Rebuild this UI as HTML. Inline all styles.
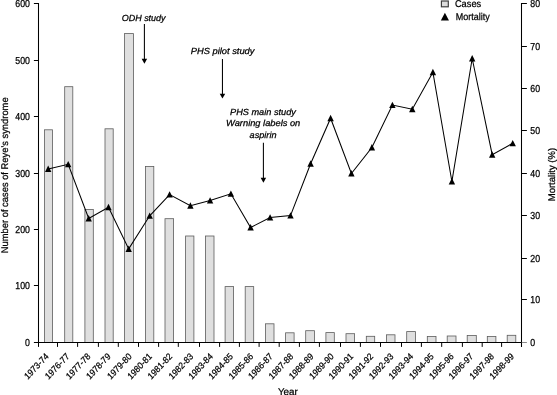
<!DOCTYPE html><html><head><meta charset="utf-8"><style>html,body{margin:0;padding:0;background:#fff}svg{display:block}</style></head><body><svg width="557" height="395" viewBox="0 0 557 395" font-family="Liberation Sans, sans-serif" font-size="9" fill="#000" text-rendering="geometricPrecision">
<rect width="557" height="395" fill="#fff"/>
<rect x="44.50" y="129.80" width="8.00" height="212.70" fill="#dfdfdf" stroke="#5c5c5c" stroke-width="0.8"/>
<rect x="64.70" y="86.70" width="8.10" height="255.80" fill="#dfdfdf" stroke="#5c5c5c" stroke-width="0.8"/>
<rect x="84.90" y="209.40" width="8.40" height="133.10" fill="#dfdfdf" stroke="#5c5c5c" stroke-width="0.8"/>
<rect x="105.00" y="128.80" width="8.20" height="213.70" fill="#dfdfdf" stroke="#5c5c5c" stroke-width="0.8"/>
<rect x="124.50" y="33.60" width="9.00" height="308.90" fill="#dfdfdf" stroke="#5c5c5c" stroke-width="0.8"/>
<rect x="145.40" y="166.40" width="8.40" height="176.10" fill="#dfdfdf" stroke="#5c5c5c" stroke-width="0.8"/>
<rect x="165.00" y="218.70" width="8.60" height="123.80" fill="#dfdfdf" stroke="#5c5c5c" stroke-width="0.8"/>
<rect x="185.60" y="236.00" width="8.30" height="106.50" fill="#dfdfdf" stroke="#5c5c5c" stroke-width="0.8"/>
<rect x="205.40" y="236.00" width="8.60" height="106.50" fill="#dfdfdf" stroke="#5c5c5c" stroke-width="0.8"/>
<rect x="225.10" y="286.60" width="8.50" height="55.90" fill="#dfdfdf" stroke="#5c5c5c" stroke-width="0.8"/>
<rect x="245.20" y="286.60" width="8.50" height="55.90" fill="#dfdfdf" stroke="#5c5c5c" stroke-width="0.8"/>
<rect x="265.50" y="323.80" width="8.50" height="18.70" fill="#dfdfdf" stroke="#5c5c5c" stroke-width="0.8"/>
<rect x="285.60" y="332.80" width="8.50" height="9.70" fill="#dfdfdf" stroke="#5c5c5c" stroke-width="0.8"/>
<rect x="305.70" y="330.70" width="8.70" height="11.80" fill="#dfdfdf" stroke="#5c5c5c" stroke-width="0.8"/>
<rect x="325.90" y="332.60" width="8.40" height="9.90" fill="#dfdfdf" stroke="#5c5c5c" stroke-width="0.8"/>
<rect x="346.00" y="333.70" width="8.60" height="8.80" fill="#dfdfdf" stroke="#5c5c5c" stroke-width="0.8"/>
<rect x="366.30" y="336.30" width="8.40" height="6.20" fill="#dfdfdf" stroke="#5c5c5c" stroke-width="0.8"/>
<rect x="386.40" y="334.80" width="8.60" height="7.70" fill="#dfdfdf" stroke="#5c5c5c" stroke-width="0.8"/>
<rect x="406.70" y="331.60" width="8.80" height="10.90" fill="#dfdfdf" stroke="#5c5c5c" stroke-width="0.8"/>
<rect x="427.30" y="336.50" width="8.70" height="6.00" fill="#dfdfdf" stroke="#5c5c5c" stroke-width="0.8"/>
<rect x="447.20" y="336.00" width="8.80" height="6.50" fill="#dfdfdf" stroke="#5c5c5c" stroke-width="0.8"/>
<rect x="467.20" y="335.50" width="9.10" height="7.00" fill="#dfdfdf" stroke="#5c5c5c" stroke-width="0.8"/>
<rect x="487.30" y="336.50" width="8.60" height="6.00" fill="#dfdfdf" stroke="#5c5c5c" stroke-width="0.8"/>
<rect x="507.20" y="335.30" width="8.60" height="7.20" fill="#dfdfdf" stroke="#5c5c5c" stroke-width="0.8"/>
<path d="M38.5 3.0V342.5H522.0M521.5 346.9V3.0" fill="none" stroke="#000" stroke-width="1.05"/>
<path d="M33.9 342.50H38.5" stroke="#000" stroke-width="1"/>
<text transform="translate(29.90 345.90) scale(0.87 1)" font-size="10.1" text-anchor="end" stroke="#000" stroke-width="0.25">0</text>
<path d="M33.9 285.50H38.5" stroke="#000" stroke-width="1"/>
<text transform="translate(29.90 288.90) scale(0.87 1)" font-size="10.1" text-anchor="end" stroke="#000" stroke-width="0.25">100</text>
<path d="M33.9 229.50H38.5" stroke="#000" stroke-width="1"/>
<text transform="translate(29.90 232.90) scale(0.87 1)" font-size="10.1" text-anchor="end" stroke="#000" stroke-width="0.25">200</text>
<path d="M33.9 173.50H38.5" stroke="#000" stroke-width="1"/>
<text transform="translate(29.90 176.90) scale(0.87 1)" font-size="10.1" text-anchor="end" stroke="#000" stroke-width="0.25">300</text>
<path d="M33.9 116.50H38.5" stroke="#000" stroke-width="1"/>
<text transform="translate(29.90 119.90) scale(0.87 1)" font-size="10.1" text-anchor="end" stroke="#000" stroke-width="0.25">400</text>
<path d="M33.9 60.50H38.5" stroke="#000" stroke-width="1"/>
<text transform="translate(29.90 63.90) scale(0.87 1)" font-size="10.1" text-anchor="end" stroke="#000" stroke-width="0.25">500</text>
<path d="M33.9 3.50H38.5" stroke="#000" stroke-width="1"/>
<text transform="translate(29.90 6.90) scale(0.87 1)" font-size="10.1" text-anchor="end" stroke="#000" stroke-width="0.25">600</text>
<path d="M521.5 342.50h5.4" stroke="#888" stroke-width="1"/>
<text transform="translate(530.30 345.90) scale(0.87 1)" font-size="10.1" stroke="#000" stroke-width="0.25">0</text>
<path d="M521.5 299.50h5.4" stroke="#000" stroke-width="1"/>
<text transform="translate(530.30 302.90) scale(0.87 1)" font-size="10.1" stroke="#000" stroke-width="0.25">10</text>
<path d="M521.5 258.50h5.4" stroke="#000" stroke-width="1"/>
<text transform="translate(530.30 261.90) scale(0.87 1)" font-size="10.1" stroke="#000" stroke-width="0.25">20</text>
<path d="M521.5 215.50h5.4" stroke="#000" stroke-width="1"/>
<text transform="translate(530.30 218.90) scale(0.87 1)" font-size="10.1" stroke="#000" stroke-width="0.25">30</text>
<path d="M521.5 173.50h5.4" stroke="#000" stroke-width="1"/>
<text transform="translate(530.30 176.90) scale(0.87 1)" font-size="10.1" stroke="#000" stroke-width="0.25">40</text>
<path d="M521.5 130.50h5.4" stroke="#000" stroke-width="1"/>
<text transform="translate(530.30 133.90) scale(0.87 1)" font-size="10.1" stroke="#000" stroke-width="0.25">50</text>
<path d="M521.5 88.50h5.4" stroke="#000" stroke-width="1"/>
<text transform="translate(530.30 91.90) scale(0.87 1)" font-size="10.1" stroke="#000" stroke-width="0.25">60</text>
<path d="M521.5 46.50h5.4" stroke="#000" stroke-width="1"/>
<text transform="translate(530.30 49.90) scale(0.87 1)" font-size="10.1" stroke="#000" stroke-width="0.25">70</text>
<path d="M521.5 3.50h5.4" stroke="#000" stroke-width="1"/>
<text transform="translate(530.30 6.90) scale(0.87 1)" font-size="10.1" stroke="#000" stroke-width="0.25">80</text>
<path d="M38.50 342.5v4.4" stroke="#000" stroke-width="1"/>
<path d="M57.50 342.5v4.4" stroke="#000" stroke-width="1"/>
<path d="M77.60 342.5v4.4" stroke="#000" stroke-width="1"/>
<path d="M98.40 342.5v4.4" stroke="#000" stroke-width="1"/>
<path d="M118.30 342.5v4.4" stroke="#000" stroke-width="1"/>
<path d="M138.50 342.5v4.4" stroke="#000" stroke-width="1"/>
<path d="M158.60 342.5v4.4" stroke="#000" stroke-width="1"/>
<path d="M178.30 342.5v4.4" stroke="#000" stroke-width="1"/>
<path d="M199.50 342.5v4.4" stroke="#000" stroke-width="1"/>
<path d="M219.60 342.5v4.4" stroke="#000" stroke-width="1"/>
<path d="M239.40 342.5v4.4" stroke="#000" stroke-width="1"/>
<path d="M259.10 342.5v4.4" stroke="#000" stroke-width="1"/>
<path d="M279.20 342.5v4.4" stroke="#000" stroke-width="1"/>
<path d="M299.40 342.5v4.4" stroke="#000" stroke-width="1"/>
<path d="M319.40 342.5v4.4" stroke="#000" stroke-width="1"/>
<path d="M340.50 342.5v4.4" stroke="#000" stroke-width="1"/>
<path d="M360.40 342.5v4.4" stroke="#000" stroke-width="1"/>
<path d="M380.50 342.5v4.4" stroke="#000" stroke-width="1"/>
<path d="M401.50 342.5v4.4" stroke="#000" stroke-width="1"/>
<path d="M421.40 342.5v4.4" stroke="#000" stroke-width="1"/>
<path d="M441.70 342.5v4.4" stroke="#000" stroke-width="1"/>
<path d="M462.40 342.5v4.4" stroke="#000" stroke-width="1"/>
<path d="M482.20 342.5v4.4" stroke="#000" stroke-width="1"/>
<path d="M501.60 342.5v4.4" stroke="#000" stroke-width="1"/>
<path d="M521.50 342.5v4.4" stroke="#000" stroke-width="1"/>
<text transform="translate(49.20 357.00) scale(0.93 1) rotate(-45)" font-size="9.4" text-anchor="end" textLength="32.7" lengthAdjust="spacingAndGlyphs" stroke="#000" stroke-width="0.25">1973-74</text>
<text transform="translate(69.91 357.00) scale(0.93 1) rotate(-45)" font-size="9.4" text-anchor="end" textLength="32.7" lengthAdjust="spacingAndGlyphs" stroke="#000" stroke-width="0.25">1976-77</text>
<text transform="translate(90.92 357.00) scale(0.93 1) rotate(-45)" font-size="9.4" text-anchor="end" textLength="32.7" lengthAdjust="spacingAndGlyphs" stroke="#000" stroke-width="0.25">1977-78</text>
<text transform="translate(111.13 357.00) scale(0.93 1) rotate(-45)" font-size="9.4" text-anchor="end" textLength="32.7" lengthAdjust="spacingAndGlyphs" stroke="#000" stroke-width="0.25">1978-79</text>
<text transform="translate(132.14 357.00) scale(0.93 1) rotate(-45)" font-size="9.4" text-anchor="end" textLength="32.7" lengthAdjust="spacingAndGlyphs" stroke="#000" stroke-width="0.25">1979-80</text>
<text transform="translate(152.55 357.00) scale(0.93 1) rotate(-45)" font-size="9.4" text-anchor="end" textLength="32.7" lengthAdjust="spacingAndGlyphs" stroke="#000" stroke-width="0.25">1980-81</text>
<text transform="translate(172.76 357.00) scale(0.93 1) rotate(-45)" font-size="9.4" text-anchor="end" textLength="32.7" lengthAdjust="spacingAndGlyphs" stroke="#000" stroke-width="0.25">1981-82</text>
<text transform="translate(193.67 357.00) scale(0.93 1) rotate(-45)" font-size="9.4" text-anchor="end" textLength="32.7" lengthAdjust="spacingAndGlyphs" stroke="#000" stroke-width="0.25">1982-83</text>
<text transform="translate(213.38 357.00) scale(0.93 1) rotate(-45)" font-size="9.4" text-anchor="end" textLength="32.7" lengthAdjust="spacingAndGlyphs" stroke="#000" stroke-width="0.25">1983-84</text>
<text transform="translate(233.59 357.00) scale(0.93 1) rotate(-45)" font-size="9.4" text-anchor="end" textLength="32.7" lengthAdjust="spacingAndGlyphs" stroke="#000" stroke-width="0.25">1984-85</text>
<text transform="translate(253.80 357.00) scale(0.93 1) rotate(-45)" font-size="9.4" text-anchor="end" textLength="32.7" lengthAdjust="spacingAndGlyphs" stroke="#000" stroke-width="0.25">1985-86</text>
<text transform="translate(273.31 357.00) scale(0.93 1) rotate(-45)" font-size="9.4" text-anchor="end" textLength="32.7" lengthAdjust="spacingAndGlyphs" stroke="#000" stroke-width="0.25">1986-87</text>
<text transform="translate(293.72 357.00) scale(0.93 1) rotate(-45)" font-size="9.4" text-anchor="end" textLength="32.7" lengthAdjust="spacingAndGlyphs" stroke="#000" stroke-width="0.25">1987-88</text>
<text transform="translate(313.93 357.00) scale(0.93 1) rotate(-45)" font-size="9.4" text-anchor="end" textLength="32.7" lengthAdjust="spacingAndGlyphs" stroke="#000" stroke-width="0.25">1988-89</text>
<text transform="translate(334.14 357.00) scale(0.93 1) rotate(-45)" font-size="9.4" text-anchor="end" textLength="32.7" lengthAdjust="spacingAndGlyphs" stroke="#000" stroke-width="0.25">1989-90</text>
<text transform="translate(353.65 357.00) scale(0.93 1) rotate(-45)" font-size="9.4" text-anchor="end" textLength="32.7" lengthAdjust="spacingAndGlyphs" stroke="#000" stroke-width="0.25">1990-91</text>
<text transform="translate(373.86 357.00) scale(0.93 1) rotate(-45)" font-size="9.4" text-anchor="end" textLength="32.7" lengthAdjust="spacingAndGlyphs" stroke="#000" stroke-width="0.25">1991-92</text>
<text transform="translate(394.07 357.00) scale(0.93 1) rotate(-45)" font-size="9.4" text-anchor="end" textLength="32.7" lengthAdjust="spacingAndGlyphs" stroke="#000" stroke-width="0.25">1992-93</text>
<text transform="translate(413.78 357.00) scale(0.93 1) rotate(-45)" font-size="9.4" text-anchor="end" textLength="32.7" lengthAdjust="spacingAndGlyphs" stroke="#000" stroke-width="0.25">1993-94</text>
<text transform="translate(434.19 357.00) scale(0.93 1) rotate(-45)" font-size="9.4" text-anchor="end" textLength="32.7" lengthAdjust="spacingAndGlyphs" stroke="#000" stroke-width="0.25">1994-95</text>
<text transform="translate(454.20 357.00) scale(0.93 1) rotate(-45)" font-size="9.4" text-anchor="end" textLength="32.7" lengthAdjust="spacingAndGlyphs" stroke="#000" stroke-width="0.25">1995-96</text>
<text transform="translate(473.81 357.00) scale(0.93 1) rotate(-45)" font-size="9.4" text-anchor="end" textLength="32.7" lengthAdjust="spacingAndGlyphs" stroke="#000" stroke-width="0.25">1996-97</text>
<text transform="translate(494.62 357.00) scale(0.93 1) rotate(-45)" font-size="9.4" text-anchor="end" textLength="32.7" lengthAdjust="spacingAndGlyphs" stroke="#000" stroke-width="0.25">1997-98</text>
<text transform="translate(514.53 357.00) scale(0.93 1) rotate(-45)" font-size="9.4" text-anchor="end" textLength="32.7" lengthAdjust="spacingAndGlyphs" stroke="#000" stroke-width="0.25">1998-99</text>
<polyline points="48.2,168.9 68.2,164.3 88.7,218.5 108.5,207.2 128.7,248.9 149.7,215.8 169.6,194.6 190.4,205.7 210.1,200.6 230.9,193.8 250.6,227.5 270.1,217.6 290.5,215.6 310.6,163.7 330.6,118.2 351.4,173.5 371.9,147.5 392.4,105.1 412.3,109.2 432.9,72.2 451.9,181.5 472.2,58.5 492.2,154.7 512.7,143.3" fill="none" stroke="#000" stroke-width="1.05"/>
<path d="M48.2 165.5l3.2 6.4H45.0z" fill="#000"/>
<path d="M68.2 160.9l3.2 6.4H65.0z" fill="#000"/>
<path d="M88.7 215.1l3.2 6.4H85.5z" fill="#000"/>
<path d="M108.5 203.79999999999998l3.2 6.4H105.3z" fill="#000"/>
<path d="M128.7 245.5l3.2 6.4H125.49999999999999z" fill="#000"/>
<path d="M149.7 212.4l3.2 6.4H146.5z" fill="#000"/>
<path d="M169.6 191.2l3.2 6.4H166.4z" fill="#000"/>
<path d="M190.4 202.29999999999998l3.2 6.4H187.20000000000002z" fill="#000"/>
<path d="M210.1 197.2l3.2 6.4H206.9z" fill="#000"/>
<path d="M230.9 190.4l3.2 6.4H227.70000000000002z" fill="#000"/>
<path d="M250.6 224.1l3.2 6.4H247.4z" fill="#000"/>
<path d="M270.1 214.2l3.2 6.4H266.90000000000003z" fill="#000"/>
<path d="M290.5 212.2l3.2 6.4H287.3z" fill="#000"/>
<path d="M310.6 160.29999999999998l3.2 6.4H307.40000000000003z" fill="#000"/>
<path d="M330.6 114.8l3.2 6.4H327.40000000000003z" fill="#000"/>
<path d="M351.4 170.1l3.2 6.4H348.2z" fill="#000"/>
<path d="M371.9 144.1l3.2 6.4H368.7z" fill="#000"/>
<path d="M392.4 101.69999999999999l3.2 6.4H389.2z" fill="#000"/>
<path d="M412.3 105.8l3.2 6.4H409.1z" fill="#000"/>
<path d="M432.9 68.8l3.2 6.4H429.7z" fill="#000"/>
<path d="M451.9 178.1l3.2 6.4H448.7z" fill="#000"/>
<path d="M472.2 55.1l3.2 6.4H469.0z" fill="#000"/>
<path d="M492.2 151.29999999999998l3.2 6.4H489.0z" fill="#000"/>
<path d="M512.7 139.9l3.2 6.4H509.50000000000006z" fill="#000"/>
<path d="M144.4 24V60.7" stroke="#000" stroke-width="1.05"/><path d="M144.4 63.7l-2.75 -4.9h5.5z" fill="#000"/>
<path d="M222.45 59V95.6" stroke="#000" stroke-width="1.05"/><path d="M222.45 98.6l-2.75 -4.9h5.5z" fill="#000"/>
<path d="M263.4 142.8V179.7" stroke="#000" stroke-width="1.05"/><path d="M263.4 182.7l-2.75 -4.9h5.5z" fill="#000"/>
<text transform="translate(121.70 20.70)" font-size="8.8" font-style="italic" textLength="43.9" lengthAdjust="spacingAndGlyphs" stroke="#000" stroke-width="0.25">ODH study</text>
<text transform="translate(190.70 54.40)" font-size="8.8" font-style="italic" textLength="63.7" lengthAdjust="spacingAndGlyphs" stroke="#000" stroke-width="0.25">PHS pilot study</text>
<text transform="translate(230.00 114.90)" font-size="8.8" font-style="italic" textLength="65.9" lengthAdjust="spacingAndGlyphs" stroke="#000" stroke-width="0.25">PHS main study</text>
<text transform="translate(226.10 125.80)" font-size="8.8" font-style="italic" textLength="74.2" lengthAdjust="spacingAndGlyphs" stroke="#000" stroke-width="0.25">Warning labels on</text>
<text transform="translate(249.60 137.50)" font-size="8.8" font-style="italic" textLength="26.9" lengthAdjust="spacingAndGlyphs" stroke="#000" stroke-width="0.25">aspirin</text>
<text transform="translate(7.50 253.20) rotate(-90)" font-size="9.7" textLength="155.8" lengthAdjust="spacingAndGlyphs" stroke="#000" stroke-width="0.25">Number of cases of Reye's syndrome</text>
<text transform="translate(554.90 201.30) rotate(-90)" font-size="9.7" textLength="53.4" lengthAdjust="spacingAndGlyphs" stroke="#000" stroke-width="0.25">Mortality (%)</text>
<text transform="translate(277.90 395.00)" font-size="9.8" textLength="19.8" lengthAdjust="spacingAndGlyphs" stroke="#000" stroke-width="0.25">Year</text>
<rect x="441.4" y="1.0" width="6.9" height="5.8" fill="#dcdcdc" stroke="#3a3a3a" stroke-width="1.15"/>
<text transform="translate(454.90 6.70)" font-size="9.9" textLength="26.3" lengthAdjust="spacingAndGlyphs" stroke="#000" stroke-width="0.25">Cases</text>
<path d="M444.9 12.7l4.05 7.8h-8.1z" fill="#000"/>
<text transform="translate(455.80 20.00)" font-size="9.9" textLength="33.9" lengthAdjust="spacingAndGlyphs" stroke="#000" stroke-width="0.25">Mortality</text>
</svg></body></html>
